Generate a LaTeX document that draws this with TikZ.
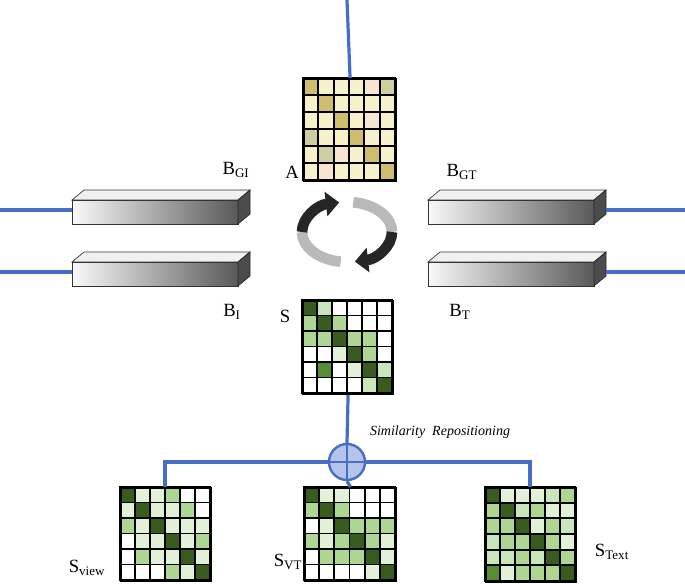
\documentclass[tikz,border=0pt]{standalone}
\usepackage{fontspec}
\setmainfont{Liberation Serif}
\usetikzlibrary{arrows.meta}
\definecolor{cD}{RGB}{208,188,110}
\definecolor{cC}{RGB}{246,241,202}
\definecolor{cP}{RGB}{248,228,210}
\definecolor{cG}{RGB}{206,206,160}
\definecolor{cK}{RGB}{55,92,30}
\definecolor{cL}{RGB}{172,214,145}
\definecolor{cV}{RGB}{226,240,215}
\definecolor{cW}{RGB}{255,255,255}
\definecolor{cM}{RGB}{88,140,50}
\definecolor{cN}{RGB}{200,230,185}
\definecolor{lineblue}{RGB}{70,110,200}
\newcommand\gridmat[6]{% name, x0, y0, w, h, rows
  \foreach \rw [count=\r from 0] in {#6} {
    \foreach \cc [count=\k from 0] in \rw {
      \fill[c\cc, draw=black, line width=1.3pt] ({#2+\k*#4/6},{#3+\r*#5/6}) rectangle ++({#4/6},{#5/6});
    }
  }
  \node[draw=black, line width=1.6pt, inner sep=0, minimum width={#4*0.75pt}, minimum height={#5*0.75pt}, anchor=north west] (#1) at (#2,#3) {};
}
\tikzset{lbl/.style={font=\fontsize{14}{16}\selectfont, inner sep=0},
  wire/.style={lineblue, line width=2.4pt},
  front/.style={left color=gray!5, right color=gray!70!black, draw=gray!40!black, line width=0.5pt},
  topf/.style={fill=gray!12, draw=gray!40!black, line width=0.5pt},
  sidef/.style={fill=gray!60!black, draw=gray!30!black, line width=0.5pt}}
\begin{document}
\begin{tikzpicture}[x=0.75pt,y=-0.75pt]
\useasboundingbox (0,0) rectangle (685,583);
% matrices
\gridmat{A}{303}{78}{92}{102}{{D,C,C,C,P,G},{C,D,C,C,C,C},{C,C,D,C,P,C},{G,C,C,D,C,C},{C,G,P,C,D,C},{C,P,C,C,C,D}}
\gridmat{S}{302}{300}{90}{93}{{K,N,W,W,W,W},{L,K,L,W,W,W},{L,L,K,L,L,W},{W,W,V,K,L,W},{W,M,W,V,K,N},{W,W,W,W,N,K}}
\gridmat{Sv}{120}{487}{90}{93}{{K,V,V,L,W,W},{V,K,V,V,L,W},{L,V,K,V,V,V},{W,V,V,K,V,L},{W,L,V,V,K,V},{W,W,W,L,V,K}}
\gridmat{Svt}{304}{487}{91}{93}{{K,V,V,W,W,W},{L,K,L,W,W,W},{W,V,K,L,L,L},{L,V,L,K,L,V},{W,L,L,L,K,V},{W,W,W,W,V,K}}
\gridmat{St}{485}{487}{90}{94}{{K,V,V,V,N,L},{L,K,N,L,V,V},{L,L,K,V,L,N},{N,L,L,K,L,V},{N,N,L,N,K,L},{M,V,L,L,L,K}}
% bars
\foreach \nm/\x/\y in {bgi/72/200, bi/72/262, bgt/428/200, bt/428/262}{
  \fill[topf] (\x,\y) -- ++(12,-10) -- ++(166,0) -- ++(-12,10) -- cycle;
  \fill[front] (\x,\y) rectangle ++(166,24);
  \fill[sidef] (\x+166,\y) -- ++(12,-10) -- ++(0,24) -- ++(-12,10) -- cycle;
  \coordinate (\nm L) at (\x,\y+10);
  \coordinate (\nm R) at (\x+178,\y+10);
}
% wires
\coordinate (top) at (347,0);
\coordinate (l1) at (0,210); \coordinate (l2) at (0,272);
\coordinate (r1) at (685,210); \coordinate (r2) at (685,272);
\draw[wire] (top) -- (A.north);
\draw[wire] (l1) -- (bgiL);
\draw[wire] (l2) -- (biL);
\draw[wire] (bgtR) -- (r1);
\draw[wire] (btR) -- (r2);
\node[circle, draw=lineblue, fill=lineblue!40, line width=1.8pt, minimum size=27pt, inner sep=0] (O) at (347,462) {};
\draw[lineblue, line width=1.6pt] (O.north) -- (O.south) (O.west) -- (O.east);
\draw[wire] (S.south) -- (O.north);
\draw[wire] (O.west) -- (165,462) -- (Sv.north -| 165,0);
\draw[wire] (O.east) -- (530,462) -- (St.north -| 530,0);
\draw[wire] (O.south) -- (Svt.north);
% cycle arrows
\begin{scope}[shift={(347,232)}]
\draw[gray!55, line width=8pt] (278:45 and 30) arc[start angle=278,end angle=360,x radius=45,y radius=30];
\draw[gray!55, line width=8pt] (98:45 and 30) arc[start angle=98,end angle=180,x radius=45,y radius=30];
\draw[black!85, line width=8pt, -{Triangle[length=10pt,width=18pt]}] (180:45 and 30) arc[start angle=180,end angle=260,x radius=45,y radius=30];
\draw[black!85, line width=8pt, -{Triangle[length=10pt,width=18pt]}] (0:45 and 30) arc[start angle=0,end angle=80,x radius=45,y radius=30];
\end{scope}
% labels
\node[lbl] at (236,170) {B\textsubscript{GI}};
\node[lbl] at (292,172) {A};
\node[lbl] at (462,172) {B\textsubscript{GT}};
\node[lbl] at (232,312) {B\textsubscript{I}};
\node[lbl] at (285,316) {S};
\node[lbl] at (460,312) {B\textsubscript{T}};
\node[lbl, font=\itshape\fontsize{10.5}{12}\selectfont] at (440,432) {Similarity\ \ Repositioning};
\node[lbl] at (87,568) {S\textsubscript{view}};
\node[lbl] at (288,562) {S\textsubscript{VT}};
\node[lbl] at (612,552) {S\textsubscript{Text}};
\end{tikzpicture}
\end{document}
